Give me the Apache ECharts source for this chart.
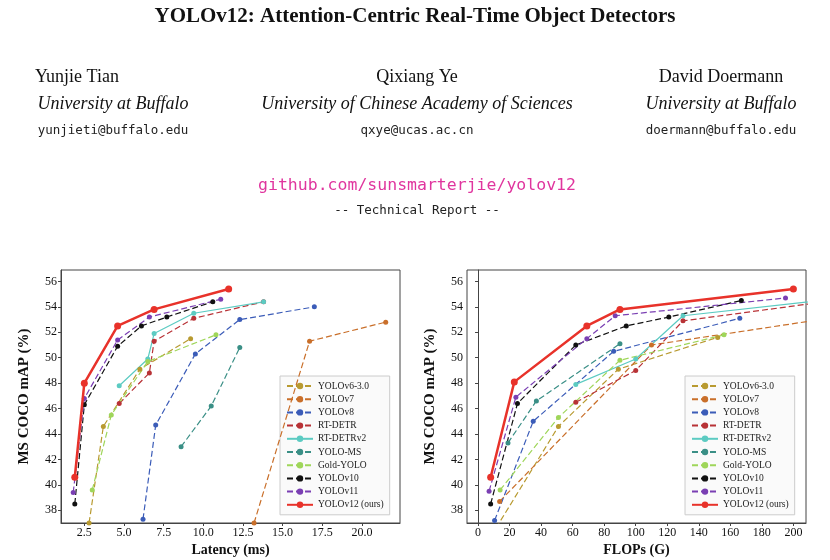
<!DOCTYPE html>
<html><head><meta charset="utf-8">
<script src="https://cdn.jsdelivr.net/npm/echarts@6/dist/echarts.min.js"></script>
<style>html,body{margin:0;padding:0;background:#fff}#c{width:830px;height:560px}</style>
</head><body><div id="c"></div>
<script>
const names = ['YOLOv6-3.0','YOLOv7','YOLOv8','RT-DETR','RT-DETRv2','YOLO-MS','Gold-YOLO','YOLOv10','YOLOv11','YOLOv12 (ours)'];
const colors = ['#b89a30','#c96f2a','#3b5cb8','#b83236','#5ccbc2','#3a8f86','#9fd65a','#111111','#7a3fb3','#e8322a'];
const dashed = [true,true,true,true,false,true,true,true,true,false];
// latency (ms), mAP
const latV6 = [[2.8,37.0],[3.7,44.6],[6.0,49.1],[9.2,51.5]];
const latV7 = [[13.2,37.0],[16.7,51.3],[21.5,52.8]];
const latV8 = [[6.2,37.3],[7.0,44.7],[9.5,50.3],[12.3,53.0],[17.0,54.0]];
const latRT = [[4.7,46.4],[6.6,48.8],[6.9,51.3],[9.4,53.1],[13.8,54.4]];
const latRT2 = [[4.7,47.8],[6.5,49.9],[6.9,51.9],[9.4,53.5],[13.8,54.4]];
const latMS = [[8.6,43.0],[10.5,46.2],[12.3,50.8]];
const latGold = [[3.0,39.6],[4.2,45.5],[6.5,49.7],[10.8,51.8]];
const latV10 = [[1.9,38.5],[2.5,46.3],[4.6,50.9],[6.1,52.5],[7.7,53.2],[10.6,54.4]];
const latV11 = [[1.8,39.4],[2.5,46.8],[4.6,51.4],[6.6,53.2],[11.1,54.6]];
const latV12 = [[1.9,40.6],[2.5,48.0],[4.6,52.5],[6.9,53.8],[11.6,55.4]];
// FLOPs (G), mAP
const flV6 = [[11.4,36.6],[51,44.6],[89,49.1],[152,51.6]];
const flV7 = [[13.7,38.7],[110,51.0],[217,53.0]];
const flV8 = [[10.5,37.2],[35,45.0],[86,50.5],[166,53.1]];
const flRT = [[62,46.5],[100,49.0],[130,52.9],[232,54.6]];
const flRT2 = [[62,47.9],[100,49.9],[130,53.3],[232,54.7]];
const flMS = [[19,43.3],[37,46.6],[90,51.1]];
const flGold = [[14,39.6],[51,45.3],[90,49.8],[156,51.8]];
const flV10 = [[8,38.5],[25,46.4],[62,51.0],[94,52.5],[121,53.2],[167,54.5]];
const flV11 = [[7,39.5],[24,46.9],[69,51.5],[87,53.3],[195,54.7]];
const flV12 = [[8,40.6],[23,48.1],[69,52.5],[90,53.8],[200,55.4]];
const latTicks = [2.5,5,7.5,10,12.5,15,17.5,20];
const flTicks = [0,20,40,60,80,100,120,140,160,180,200];
const yTicks = [38,40,42,44,46,48,50,52,54,56];

const latData = [latV6,latV7,latV8,latRT,latRT2,latMS,latGold,latV10,latV11,latV12];
const flData = [flV6,flV7,flV8,flRT,flRT2,flMS,flGold,flV10,flV11,flV12];
const serif = 'Liberation Serif';
const mono = 'DejaVu Sans Mono';

function mkSeries(data, idx){
  return data.map((d,i)=>({
    name:names[i], type:'line', xAxisIndex:idx, yAxisIndex:idx, data:d,
    symbol:'circle', symbolSize: i===9?7:5, clip:true,
    lineStyle:{color:colors[i], width: i===9?2.5:1.2, type: dashed[i]?[6,3]:'solid'},
    itemStyle:{color:colors[i]}, z: i===9?10:5
  }));
}
function xAx(idx,min,max,ticks,name,fmt){
  return {type:'value', gridIndex:idx, min:min, max:max, name:name, nameLocation:'middle', nameGap:20,
    nameTextStyle:{fontFamily:serif,fontWeight:'bold',fontSize:14,color:'#111'},
    axisLine:{lineStyle:{color:'#444'}}, splitLine:{show:false},
    axisTick:{customValues:ticks,length:3,lineStyle:{color:'#444'}},
    axisLabel:{customValues:ticks,fontFamily:serif,fontSize:12,color:'#111',margin:4,formatter:fmt}};
}
function yAx(idx){
  return {type:'value', gridIndex:idx, min:37, max:56.9, name:'MS COCO mAP (%)', nameLocation:'middle', nameGap:29,
    nameTextStyle:{fontFamily:serif,fontWeight:'bold',fontSize:15,color:'#111'},
    axisLine:{lineStyle:{color:'#444'}}, splitLine:{show:false},
    axisTick:{customValues:yTicks,length:3,lineStyle:{color:'#444'}},
    axisLabel:{customValues:yTicks,fontFamily:serif,fontSize:12,color:'#111',margin:4}};
}
function legend(left){
  return {data:names, orient:'vertical', left:left, top:376, itemGap:3.2, itemWidth:26, itemHeight:8,
    backgroundColor:'rgba(250,250,250,0.9)', borderColor:'#ccc', borderWidth:1, padding:[5,6],
    textStyle:{fontFamily:serif,fontSize:9.5,color:'#222'}};
}
const txt = (x,y,t,style)=>({type:'text', left:x, top:y, style:Object.assign({text:t, fill:'#111', textAlign:'center'},style)});
const chart = echarts.init(document.getElementById('c'));
chart.setOption({
  animation:false,
  graphic:[
    {type:'text', x:415, y:6, style:{text:'YOLOv12: Attention-Centric Real-Time Object Detectors', align:'center', font:'bold 21px "Liberation Serif"', fill:'#111'}},
    {type:'text', x:77, y:68, style:{text:'Yunjie Tian', align:'center', font:'18px "Liberation Serif"', fill:'#111'}},
    {type:'text', x:417, y:68, style:{text:'Qixiang Ye', align:'center', font:'18px "Liberation Serif"', fill:'#111'}},
    {type:'text', x:721, y:68, style:{text:'David Doermann', align:'center', font:'18px "Liberation Serif"', fill:'#111'}},
    {type:'text', x:113, y:95, style:{text:'University at Buffalo', align:'center', font:'italic 18px "Liberation Serif"', fill:'#111'}},
    {type:'text', x:417, y:95, style:{text:'University of Chinese Academy of Sciences', align:'center', font:'italic 18px "Liberation Serif"', fill:'#111'}},
    {type:'text', x:721, y:95, style:{text:'University at Buffalo', align:'center', font:'italic 18px "Liberation Serif"', fill:'#111'}},
    {type:'text', x:113, y:124, style:{text:'yunjieti@buffalo.edu', align:'center', font:'12.5px "DejaVu Sans Mono"', fill:'#222'}},
    {type:'text', x:417, y:124, style:{text:'qxye@ucas.ac.cn', align:'center', font:'12.5px "DejaVu Sans Mono"', fill:'#222'}},
    {type:'text', x:721, y:124, style:{text:'doermann@buffalo.edu', align:'center', font:'12.5px "DejaVu Sans Mono"', fill:'#222'}},
    {type:'text', x:417, y:177, style:{text:'github.com/sunsmarterjie/yolov12', align:'center', font:'16.5px "DejaVu Sans Mono"', fill:'#e0359e'}},
    {type:'text', x:417, y:204, style:{text:'-- Technical Report --', align:'center', font:'12.5px "DejaVu Sans Mono"', fill:'#222'}}
  ],
  grid:[
    {left:61, top:270, width:339, height:253, show:true, borderColor:'#444', borderWidth:1},
    {left:467, top:270, width:339, height:253, show:true, borderColor:'#444', borderWidth:1}
  ],
  xAxis:[ xAx(0,1.03,22.4,latTicks,'Latency (ms)',v=>v.toFixed(1)),
          xAx(1,-7,208,flTicks,'FLOPs (G)',v=>String(v)) ],
  yAxis:[ yAx(0), yAx(1) ],
  legend:[ legend(280), legend(685) ],
  series: mkSeries(latData,0).concat(mkSeries(flData,1))
});
</script></body></html>
